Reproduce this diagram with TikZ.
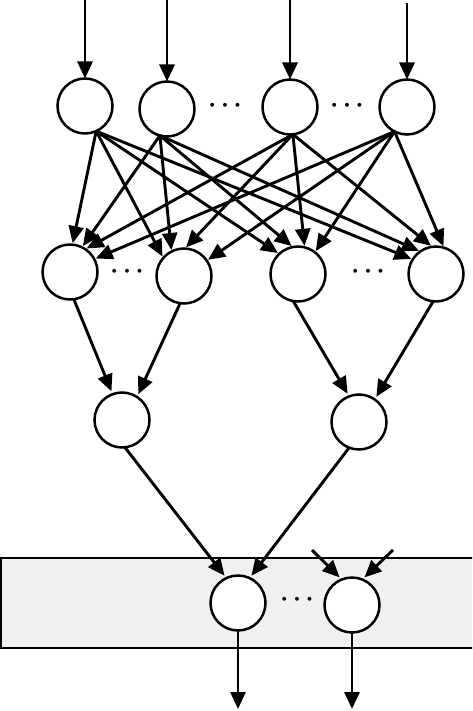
\documentclass[tikz,border=0pt]{standalone}
\usetikzlibrary{arrows.meta}
\tikzset{
  unit/.style={circle, draw, line width=2.5pt, fill=white, minimum size=55pt, inner sep=0pt, outer sep=0pt},
  link/.style={-{Triangle[length=17pt,width=15pt]}, line width=2.9pt},
  more/.style={font=\fontsize{25}{30}\selectfont\boldmath, inner sep=0pt}
}

\begin{document}
\begin{tikzpicture}[x=1pt,y=-1pt]
\useasboundingbox (0,0) rectangle (472,711);
\clip (0,0) rectangle (472,711);

% Shaded band
\draw [fill=black!6, line width=1.5pt] (0.8,558) rectangle (480,648);

% Units
\foreach \x/\y [count=\i] in {85/106, 167/109, 290/107, 407/107}
  \node[unit] (a\i) at (\x,\y) {};
\foreach \x/\y [count=\i] in {70/272, 184/276, 298/274, 436/274}
  \node[unit] (b\i) at (\x,\y) {};
\node[unit] (c1) at (122,420) {};
\node[unit] (c2) at (359,422) {};
\node[unit] (d1) at (238,603) {};
\node[unit] (d2) at (352,605) {};

% Dots
\node[more] (adots1) at (225,106) {$\cdots$};
\node[more] (adots2) at (347,106) {$\cdots$};
\node[more] (bdots1) at (127,272) {$\cdots$};
\node[more] (bdots2) at (368,272) {$\cdots$};
\node[more] (ddots) at (297,600) {$\cdots$};

% Inputs
\foreach \x/\y [count=\i] in {85/0, 167/0, 290/0, 407/3} {
  \coordinate (in\i) at (\x,\y);
  \draw [link] (in\i) -- (a\i.north);
}

% Full connections
\foreach \s/\o/\ends in {1/294/{85,139,133,148}, 2/255/{64,117,101,125},
                         3/276/{56,88,76,98}, 4/243/{28,34,52,73}} {
  \foreach \t [count=\j] in \ends {
    \draw [link, shorten >=1.5pt] (a\s.\o) -- (b\j.\t);
  }
}

% Pairs
\draw [link, shorten >=3pt] (b1.278) -- (c1.110);
\draw [link, shorten >=3pt] (b2.262) -- (c1.57);
\draw [link, shorten >=3pt] (b3.260) -- (c2.111);
\draw [link, shorten >=3pt] (b4.264) -- (c2.55);
\draw [link, shorten >=3pt] (c1.276) -- (d1.115);
\draw [link, shorten >=3pt] (c2.249) -- (d1.65);

% Extra inputs
\coordinate (e1) at (312,550);
\coordinate (e2) at (393,550);
\draw [link, shorten >=3pt] (e1) -- (d2.112);
\draw [link, shorten >=3pt] (e2) -- (d2.68);

% Outputs
\coordinate (o1) at (238,709);
\coordinate (o2) at (352,709);
\draw [link] (d1.south) -- (o1);
\draw [link] (d2.south) -- (o2);
\end{tikzpicture}
\end{document}
